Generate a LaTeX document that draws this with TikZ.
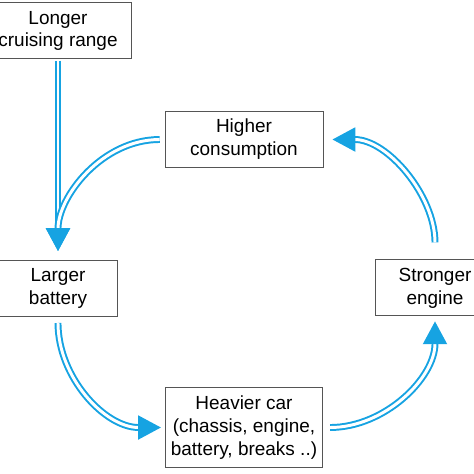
\documentclass[tikz,border=0pt]{standalone}
\usepackage{fontspec}
\setmainfont{Liberation Sans}
\usepackage{xcolor}
\usetikzlibrary{positioning,arrows.meta}
\definecolor{flowblue}{RGB}{22,163,226}
\definecolor{boxgray}{RGB}{85,85,85}
\tikzset{
	block/.style={draw=boxgray, line width=0.7pt, align=center, inner sep=0pt, minimum height=1.4cm, font=\fontsize{13.5}{16.3}\selectfont},
	flow/.style={draw=flowblue, line width=1.4pt, double=white, double distance=2.1pt, -{Triangle[length=0.57cm, width=0.6cm]}}
}
\begin{document}
\begin{tikzpicture}[node distance=2cm, on grid]
		\useasboundingbox (0,0) rectangle (11.85,-11.85);
		\node[block, minimum width=3.95cm] (higher) at (6.1,-3.4875) {Higher\\consumption};
		\node[block, minimum width=3.93cm, minimum height=1.98cm, below=7.2cm of higher] (heavier) {Heavier car\\(chassis, engine,\\battery, breaks ..)};
		\node[block, minimum width=2.95cm, below left=3.725cm and 4.65cm of higher] (battery) {Larger\\battery};
		\node[block, minimum width=3.0cm, below right=3.71cm and 4.775cm of higher] (stronger) {Stronger\\engine};
		\node[block, minimum width=3.65cm, above=6.44cm of battery] (longer) {Longer\\cruising range};
		
		\draw[flow, shorten <=0.03cm, shorten >=0.225cm] (longer) -- (battery);
		\draw[flow, shorten <=0.12cm, shorten >=0.225cm] (higher.west) to[out=180, in=90] (battery.north);
		\draw[flow, shorten <=0.15cm, shorten >=0.1cm] (battery.south) to[out=-90, in=180] (heavier.west);
		\draw[flow, shorten <=0.175cm, shorten >=0.125cm] (heavier.east) to[out=0, in=-90] (stronger.south);
		\draw[flow, shorten <=0.425cm, shorten >=0.225cm] (stronger.north) to[out=90, in=0] (higher.east);
	\end{tikzpicture}
\end{document}
